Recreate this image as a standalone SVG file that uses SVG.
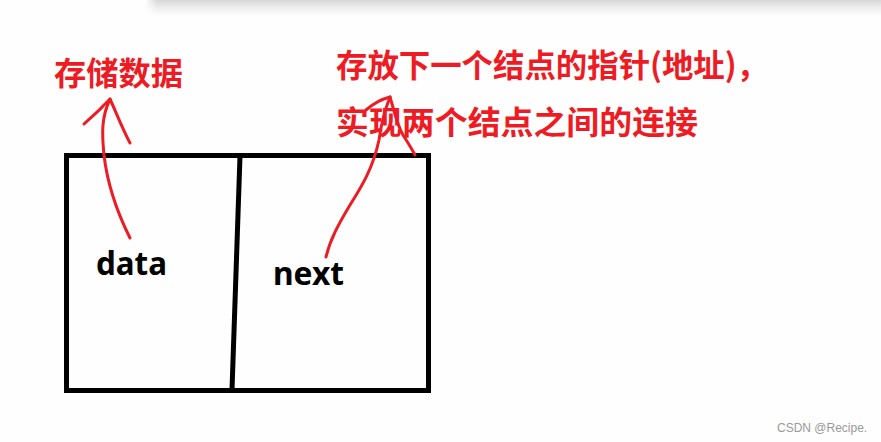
<svg xmlns="http://www.w3.org/2000/svg" width="881" height="442" viewBox="0 0 881 442">
<defs>
<linearGradient id="shadow" x1="0" y1="0" x2="0" y2="1">
<stop offset="0" stop-color="#d8d8d8"/>
<stop offset="0.5" stop-color="#efefef"/>
<stop offset="1" stop-color="#fefefe"/>
</linearGradient>
<linearGradient id="shadowL" x1="0" y1="0" x2="1" y2="0">
<stop offset="0" stop-color="#fefefe" stop-opacity="1"/>
<stop offset="1" stop-color="#fefefe" stop-opacity="0"/>
</linearGradient>
</defs>
<style>
.box{fill:none;stroke:#000;stroke-width:5}
.lbl{font-family:"Noto Sans","Open Sans","DejaVu Sans",sans-serif;font-weight:bold;font-size:33px;fill:#000}
.note{font-family:"Noto Sans CJK SC","Noto Sans",sans-serif;font-weight:bold;font-size:32px;fill:#ed1c24}
.ink{fill:none;stroke:#ed1c24;stroke-width:3;stroke-linecap:round;stroke-linejoin:round}
.wm{font-family:"Liberation Sans",Arial,sans-serif;font-size:12px;fill:#999}
</style>
<rect width="881" height="442" fill="#fefefe"/>
<rect x="145" y="0" width="736" height="16" fill="url(#shadow)"/>
<rect x="145" y="0" width="12" height="16" fill="url(#shadowL)"/>
<g id="node">
<rect class="box" x="66.5" y="155.5" width="362" height="235"/>
<path class="box" d="M240,156 L232,390"/>
<text class="lbl" x="96" y="275" textLength="71" lengthAdjust="spacingAndGlyphs">data</text>
<text class="lbl" x="273" y="285" textLength="71" lengthAdjust="spacingAndGlyphs">next</text>
</g>
<g id="note-data">
<text class="note" x="54" y="85" textLength="129" lengthAdjust="spacingAndGlyphs">存储数据</text>
</g>
<g id="note-next">
<text class="note" x="336" y="77" textLength="432" lengthAdjust="spacingAndGlyphs">存放下一个结点的指针(地址)，</text>
<text class="note" x="336" y="134" textLength="362" lengthAdjust="spacingAndGlyphs">实现两个结点之间的连接</text>
</g>
<g id="connectors">
<path class="ink" d="M130,238 C120,218 108,190 104,155 C102,135 101,118 110,99"/>
<path class="ink" d="M84,124 C92,116 98,112 103,106 L110,99 C116,112 122,128 130,143"/>
<path class="ink" d="M326,257 C330,240 338,225 350,205 C362,186 373,168 379,140 C381,125 384,112 390,97"/>
<path class="ink" d="M366,110 C374,103 382,99 390,97 C394,110 397,125 403,135 C408,143 412,149 415,155"/>
</g>
<text class="wm" x="777" y="432">CSDN @Recipe.</text>
</svg>
